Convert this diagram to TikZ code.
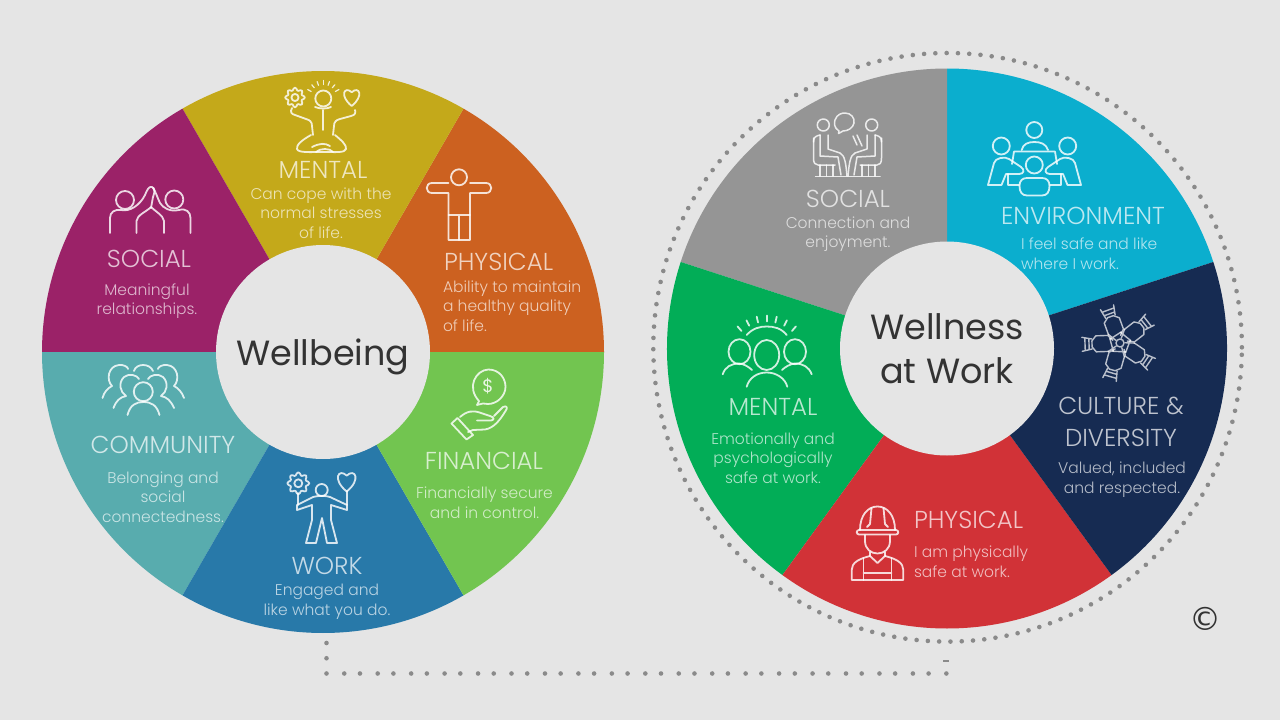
\documentclass[tikz,border=0pt]{standalone}
\usepackage{fontspec}
\setmainfont{Poppins Light}
\newfontfamily\titlefont{Poppins}
\newfontfamily\symfont{DejaVu Sans}
\usetikzlibrary{calc}
\definecolor{bg}{HTML}{E5E5E5}
\definecolor{lsoc}{HTML}{9B2268}
\definecolor{lmen}{HTML}{C4A91A}
\definecolor{lphy}{HTML}{CC6120}
\definecolor{lfin}{HTML}{72C550}
\definecolor{lwor}{HTML}{2879A9}
\definecolor{lcom}{HTML}{58ACAE}
\definecolor{rsoc}{HTML}{959595}
\definecolor{renv}{HTML}{0BAECE}
\definecolor{rcul}{HTML}{162B52}
\definecolor{rphy}{HTML}{D13237}
\definecolor{rmen}{HTML}{02AD57}
\definecolor{dotc}{HTML}{8A8A8A}
\definecolor{ink}{HTML}{333333}
\tikzset{
  hd/.style={text=white,text opacity=.72,font=\fontsize{24.5}{31.5}\selectfont,inner sep=0,outer sep=0,align=center},
  ds/.style={text=white,text opacity=.68,font=\fontsize{15.5}{19.6}\selectfont,inner sep=0,outer sep=0,align=center},
  dl/.style={ds,align=left,anchor=west},
  hl/.style={hd,anchor=west},
  hub/.style={circle,fill=bg,inner sep=0,minimum size=214pt},
  hubtext/.style={inner sep=0,text=ink,align=center,font=\titlefont\fontsize{35}{44}\selectfont},
  ic/.style={draw=white,draw opacity=.82,line width=1.8pt,line cap=round,line join=round,fill=none},
  dots/.style={draw=dotc,line width=4.6pt,line cap=round},
}
% centre x, centre y, radius, from angle, to angle (screen angles), colour
\newcommand\sect[6]{\fill[#6] (#1,#2) -- +({-(#4)}:#3) arc[start angle={-(#4)},end angle={-(#5)},radius=#3] -- cycle;}
\newcommand\gearic[3]{\begin{scope}[shift={(#1,#2)}]
  \draw[ic] plot[smooth cycle,samples=40,domain=0:351] ({#3*(1+.16*cos(8*\x))*cos(\x)},{#3*(1+.16*cos(8*\x))*sin(\x)});
  \draw[ic] (0,0) circle ({.42*#3});
\end{scope}}
\newcommand\heartic[3]{\begin{scope}[shift={(#1,#2)},scale=#3]
  \draw[ic] (0,1) .. controls (-1.35,-.1) and (-.75,-1.15) .. (0,-.45) .. controls (.75,-1.15) and (1.35,-.1) .. (0,1) -- cycle;
\end{scope}}
\newcommand\sitter{%
  \draw[ic] (823.3,125) circle (6);
  \draw[ic] (820,135) -- (820,156) -- (838,157) -- (841,175);
  \draw[ic] (828,135) -- (828,149) -- (840,153) .. controls (845,155) and (846,165) .. (847,176);
  \draw[ic] (813.5,138) -- (813.5,158) .. controls (813.5,163) and (815,165) .. (818,165) -- (835,165);
  \draw[ic] (820,165) -- (820,176) (826.5,165) -- (826.5,176) (833,165) -- (833,176);
  \draw[ic] (820,135) .. controls (816,136) and (813.5,137) .. (813.5,142);
}
\begin{document}
\begin{tikzpicture}[x=1pt,y=-1pt]
\useasboundingbox (0,0) rectangle (1280,720);
\fill[bg] (0,0) rectangle (1280,720);

% ---------- left wheel ----------
\sect{323}{352}{281}{0}{60}{lphy}
\sect{323}{352}{281}{60}{120}{lmen}
\sect{323}{352}{281}{120}{180}{lsoc}
\sect{323}{352}{281}{180}{240}{lcom}
\sect{323}{352}{281}{240}{300}{lwor}
\sect{323}{352}{281}{300}{360}{lfin}
\node[hub] (hubL) at (323,352) {};
\node[hubtext] (wellbeing) at (323,356.5) {Wellbeing};

% ---------- right wheel ----------
\node[circle,draw=dotc,dash pattern=on 0pt off 11.3pt,line cap=round,line width=4.6pt,minimum size=588.6pt,inner sep=0] (ring) at (947.6,347.3) {};
\sect{947}{348.5}{280}{18}{90}{renv}
\sect{947}{348.5}{280}{90}{162}{rsoc}
\sect{947}{348.5}{280}{162}{234}{rmen}
\sect{947}{348.5}{280}{234}{306}{rphy}
\sect{947}{348.5}{280}{306}{378}{rcul}
\node[hub] (hubR) at (947,348.5) {};
\node[hubtext] (wellness) at (947,348.5) {Wellness\\at Work};

% ---------- dotted connector ----------
\coordinate (cA) at (326.5,643);
\coordinate (cB) at (326.5,673.5);
\coordinate (cC) at (947,673.5);
\coordinate (cD) at (946,661);
\draw[dots,dash pattern=on 0pt off 15.25pt] (cA) -- (cB);
\draw[dots,dash pattern=on 0pt off 17.75pt on 0pt off 15.7pt] (cB) -- (cC);
\draw[draw=dotc,line width=1.6pt] ($(cD)+(-3,0)$) -- ($(cD)+(3,0)$);

% ---------- left labels ----------
\node[hd] (t1) at (149,259) {SOCIAL};
\node[ds] (d1) at (147,301) {Meaningful\\relationships.};
\node[hd] (t2) at (323,170) {MENTAL};
\node[ds] (d2) at (321,213) {Can cope with the\\normal stresses\\of life.};
\node[hl] (t3) at (444,262) {PHYSICAL};
\node[dl] (d3) at (443,306) {Ability to maintain\\a healthy quality\\of life.};
\node[hd] (t4) at (163,445) {COMMUNITY};
\node[ds] (d4) at (163,497) {Belonging and\\social\\connectedness.};
\node[hd] (t5) at (327,566) {WORK};
\node[ds] (d5) at (327,601.5) {Engaged and\\like what you do.};
\node[hd] (t6) at (484,461) {FINANCIAL};
\node[ds] (d6) at (484.5,502.5) {Financially secure\\and in control.};

% ---------- right labels ----------
\node[hd] (t7) at (848,199) {SOCIAL};
\node[ds] (d7) at (848,234) {Connection and\\enjoyment.};
\node[hd] (t8) at (1083,216) {ENVIRONMENT};
\node[dl] (d8) at (1021,253.5) {I feel safe and like\\where I work.};
\node[hd] (t9) at (1121,422) {CULTURE \&\\DIVERSITY};
\node[ds] (d9) at (1122,479.5) {Valued, included\\and respected.};
\node[hl] (t10) at (914,520) {PHYSICAL};
\node[dl] (d10) at (914,562) {I am physically\\safe at work.};
\node[hd] (t11) at (773,407) {MENTAL};
\node[ds] (d11) at (773,458) {Emotionally and\\psychologically\\safe at work.};

\node[text=ink,inner sep=0,font=\symfont\fontsize{32}{32}\selectfont] (copy) at (1205.7,619) {©};

% ---------- icon: high five ----------
\draw[ic] (125,200) circle (9) (174.3,199.5) circle (9);
\draw[ic] (110,233) -- (110,218) .. controls (110,212) and (115,209) .. (121,210) .. controls (130,212) and (140,205) .. (145,195) .. controls (147,190) and (149,186) .. (152,187) .. controls (155,188) and (155,192) .. (153,197) -- (151,208);
\draw[ic] (136.5,233) -- (136.5,221) .. controls (137,215) and (146,212) .. (151,207) .. controls (156,212) and (163,215) .. (164,221) -- (164,233);
\draw[ic] (190.5,233) -- (190.5,218) .. controls (190.5,212) and (186,208) .. (179,210) .. controls (170,212) and (163,208) .. (160,203) .. controls (157,197) and (156,192) .. (153,188);

% ---------- icon: meditation ----------
\gearic{295}{97.5}{8.5}
\heartic{351.7}{96.5}{9.5}
\draw[ic] (323.3,98.5) circle (8);
\foreach \a in {-150,-130,-110,-90,-70,-50,-30}
  \draw[ic,line width=1.2pt] ($(323.3,98.5)+(\a:14)$) -- ($(323.3,98.5)+(\a:18)$);
\draw[ic] (292,108) .. controls (290,112) and (291,114) .. (295,115) -- (306,119) .. controls (310,120) and (312,122) .. (312,126) -- (313,135);
\draw[ic] (355,110) .. controls (356,113) and (355,115) .. (351,116) -- (340,119) .. controls (336,120) and (334,122) .. (334,126) -- (333,135);
\draw[ic] (315,107) .. controls (320,109) and (327,109) .. (331,107);
\draw[ic] (323,110) -- (323,130);
\draw[ic] (311,135) .. controls (302,140) and (296,145) .. (297,149) .. controls (298,153) and (310,152) .. (323,152) .. controls (336,152) and (345,153) .. (346,149) .. controls (347,145) and (341,140) .. (335,135);
\draw[ic] (312,147) .. controls (320,143) and (325,143) .. (330,146) (316,152) .. controls (320,148) and (330,148) .. (333,152);

% ---------- icon: body ----------
\draw[ic] (459,177.3) circle (8);
\draw[ic] (448.5,183) -- (432,183) .. controls (425,183) and (425,193) .. (432,193) -- (448.5,193) -- (448.5,240) -- (470,240) -- (470,193) -- (486,193) .. controls (493,193) and (493,183) .. (486,183) -- (470,183);
\draw[ic] (448.5,215) -- (470,215) (459,215) -- (459,240);

% ---------- icon: community ----------
\draw[ic] (143.3,391.7) circle (9.5);
\draw[ic] (127.5,415) .. controls (130,405) and (136,402) .. (143.3,402) .. controls (151,402) and (157,405) .. (159.5,415);
\draw[ic] (113.5,408) .. controls (116,401) and (120,397) .. (126,396) .. controls (120,392) and (118,383) .. (124,377) .. controls (129,373) and (137,375) .. (139,379);
\draw[ic] (174,408) .. controls (171,401) and (167,397) .. (161,396) .. controls (167,392) and (169,383) .. (163,377) .. controls (158,373) and (150,375) .. (148,379);
\draw[ic] (102.5,398) .. controls (104,392) and (108,388) .. (112,386) .. controls (106,380) and (108,366) .. (119,365) .. controls (124,364.5) and (128,367) .. (128,369);
\draw[ic] (184,398) .. controls (182,392) and (178,388) .. (174,386) .. controls (180,380) and (178,366) .. (167,365) .. controls (162,364.5) and (158,367) .. (158,369);
\draw[ic] (134,371) .. controls (136,363) and (150,363) .. (153,371);

% ---------- icon: work ----------
\gearic{298.3}{483.3}{9.5}
\heartic{346.7}{480.5}{11}
\draw[ic] (321.7,490) circle (6);
\draw[ic] (297,505) -- (313,497) .. controls (318,495.5) and (326,495.5) .. (330,497) -- (347,505) -- (347,510) -- (331,505) -- (331,520) -- (337,543) -- (327,543) -- (322,518) -- (316,543) -- (306,543) -- (312,520) -- (312,505) -- (297,510) -- cycle;
\draw[ic] (298,493) -- (298,505) (347,491) -- (347,505);

% ---------- icon: financial ----------
\draw[ic] (479,401) .. controls (466,387) and (476,370) .. (488.3,369.5) .. controls (500,369.5) and (505.5,379) .. (505.5,386.7) .. controls (505.5,396) and (497,404) .. (488,404) -- (483,403.5) -- (477,405) -- cycle;
\node[text=white,text opacity=.85,inner sep=0,font=\titlefont\fontsize{18}{18}\selectfont] (dollar) at (488,386.5) {\$};
\draw[ic] (451.5,423.5) -- (466.5,439.5) -- (473,435) -- (457.5,418) -- cycle;
\draw[ic] (460,417) .. controls (467,411) and (473,410) .. (481,413) -- (490,416) .. controls (494,417) and (495,420) .. (491,420.5) -- (477,420.5);
\draw[ic] (494,416) -- (503,407) .. controls (507,405) and (508,408) .. (505.5,411) .. controls (500,420) and (494,428) .. (485,429.5) -- (473,430) -- (468,432);

% ---------- icon: sitters ----------
\begin{scope}[ic/.append style={line width=1.5pt}]
\sitter
\begin{scope}[shift={(1695,0)},xscale=-1]\sitter\end{scope}
\draw[ic] (853,136) -- (857,145) (857,135) -- (862,146);
\draw[ic] (839,131) .. controls (834,128) and (834,123) .. (835,120) .. controls (837,114) and (842,113) .. (845,113) .. controls (851,113) and (855,118) .. (854,123) .. controls (853,128) and (848,131) .. (843,131) -- (838.5,133.5) -- cycle;
\draw[ic] (815.5,176.7) -- (880,176.7);
\end{scope}

% ---------- icon: meeting ----------
\draw[ic] (1034.3,130) circle (8) (1001.3,146) circle (8.5) (1067.7,146) circle (8.5) (1034.3,165) circle (8.5);
\draw[ic] (1021.7,150) .. controls (1023,144) and (1028,142) .. (1034.3,142) .. controls (1041,142) and (1046,144) .. (1048,150);
\draw[ic] (1014,151.5) -- (1055,151.5) (1014,151.5) -- (1012,164) (1055,151.5) -- (1057,164);
\draw[ic] (988,185) -- (994,163) .. controls (995,158) and (1005,156) .. (1009,159) -- (1021,167) .. controls (1025,170) and (1024,174) .. (1019,174) -- (1006,174) -- (1001.5,185) -- cycle;
\draw[ic] (1081,185) -- (1075,163) .. controls (1074,158) and (1064,156) .. (1060,159) -- (1048,167) .. controls (1044,170) and (1045,174) .. (1050,174) -- (1063,174) -- (1067.5,185) -- cycle;
\draw[ic] (1008,174) -- (1008,185) -- (1019,185) (1061,174) -- (1061,185) -- (1050,185);
\draw[ic] (1027,178) -- (1042,178) .. controls (1047,178) and (1049.5,181) .. (1049.5,186) .. controls (1049.5,192) and (1047,195.5) .. (1042,195.5) -- (1027,195.5) .. controls (1022,195.5) and (1019.5,192) .. (1019.5,186) .. controls (1019.5,181) and (1022,178) .. (1027,178) -- cycle;

% ---------- icon: culture ----------
\begin{scope}[shift={(1120,343)},ic/.append style={draw opacity=.7,line width=1.4pt}]
\draw[ic] (0,0) circle (4);
\foreach \a in {-106,-34,38,110,182}{
  \begin{scope}[rotate=\a]
  \draw[ic] (12,-8) -- (24,-8) -- (28,-3) -- (28,3) -- (24,8) -- (12,8) -- (7,3);
  \draw[ic] (7,-8) -- (10,5) (4,-3) -- (12,-8);
  \draw[ic] (28,-5) -- (38,-7) (28,5) -- (38,7) (31,-5.5) -- (31,5.5) (35,-6.5) -- (35,6.5);
  \end{scope}}
\end{scope}

% ---------- icon: worker ----------
\draw[ic] (860,530) .. controls (860,515) and (868,506.5) .. (877.5,506.5) .. controls (887,506.5) and (895,515) .. (895,530);
\draw[ic] (859,530) -- (896,530) .. controls (899,530) and (899,534.5) .. (896,534.5) -- (859,534.5) .. controls (856,534.5) and (856,530) .. (859,530) -- cycle;
\draw[ic] (871.5,508) -- (870,524) -- (867,527) (883.5,508) -- (885,524) -- (888,527);
\draw[ic] (865,535) -- (865,541) .. controls (865,549) and (871,553.5) .. (877.5,553.5) .. controls (884,553.5) and (890,549) .. (890,541) -- (890,535);
\draw[ic] (870,552) -- (870,556) -- (877.5,563) -- (885,556) -- (885,552);
\draw[ic] (851.7,580) -- (851.7,570) .. controls (851.7,563) and (858,559) .. (870,556) (885,556) .. controls (897,559) and (903.3,563) .. (903.3,570) -- (903.3,580) -- (851.7,580);
\draw[ic] (863.5,558) -- (863.5,580) (891.5,558) -- (891.5,580) (863.5,573) -- (891.5,573);

% ---------- icon: three people ----------
\draw[ic] (766.7,355) ellipse (12.5 and 15) (739.5,351.7) ellipse (11 and 12.5) (795,351.7) ellipse (11 and 12.5);
\draw[ic] (746.7,386.7) .. controls (749,378) and (757,372.5) .. (766.7,372.5) .. controls (776,372.5) and (785,378) .. (787.3,386.7);
\draw[ic] (722.7,374.3) .. controls (725,367) and (731,363.5) .. (739.5,363.5) .. controls (744,364) and (749,367) .. (752,370);
\draw[ic] (811.7,374.3) .. controls (809,367) and (803,363.5) .. (795,363.5) .. controls (790,364) and (785,367) .. (782,370);
\draw[ic] (746.7,335) .. controls (753,328) and (760,326.5) .. (766.7,326.5) .. controls (774,326.5) and (781,328) .. (786.7,335);
\foreach \a in {-131,-117,-103,-90,-77,-63,-49}
  \draw[ic] ($(766.7,360)+(\a:38.5)$) -- ($(766.7,360)+(\a:44.5)$);
\end{tikzpicture}
\end{document}
